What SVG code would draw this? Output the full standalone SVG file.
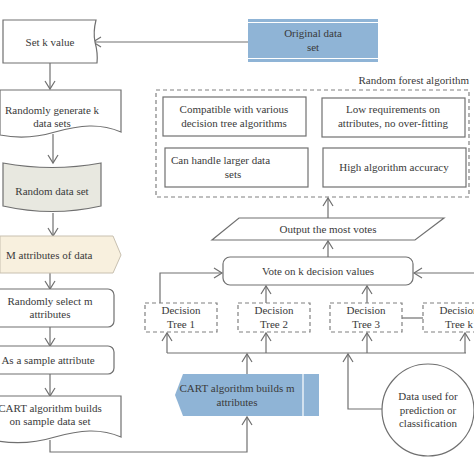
<svg xmlns="http://www.w3.org/2000/svg" width="474" height="474" viewBox="0 0 474 474">
<style>
text{font-family:"Liberation Serif","DejaVu Serif",serif;font-size:11px;fill:#3a3a3a;text-anchor:middle}
.s{fill:#fff;stroke:#707070;stroke-width:1.2}
.d{fill:#fff;stroke:#808080;stroke-width:1.2;stroke-dasharray:4 3}
.c{fill:none;stroke:#707070;stroke-width:1.2}
.a{marker-end:url(#ar)}
</style>
<defs>
<marker id="ar" markerUnits="userSpaceOnUse" markerWidth="14" markerHeight="14" viewBox="-10 -7 12 14" refX="0" refY="0" orient="auto">
<path d="M-8,-5 L0,0 L-8,5" fill="none" stroke="#707070" stroke-width="1.2"/>
</marker>
</defs>
<rect width="474" height="474" fill="#fff"/>

<g id="connectors">
<path class="c a" d="M248,42 H93"/>
<path class="c a" d="M50,63 V89"/>
<path class="c a" d="M53,134 V163"/>
<path class="c a" d="M53,213 V236"/>
<path class="c a" d="M50,273 V289"/>
<path class="c a" d="M50,327 V346"/>
<path class="c a" d="M50,374 V396"/>
<path class="c a" d="M50,440 V452 H247 V417"/>
<path class="c a" d="M247,374 V354"/>
<path class="c" d="M167,353 H466"/>
<path class="c a" d="M167,353 V333"/>
<path class="c a" d="M266,353 V333"/>
<path class="c a" d="M367,353 V333"/>
<path class="c a" d="M465,353 V333"/>
<path class="c a" d="M382,409 H348 V354"/>
<path class="c a" d="M160,303 V273 H222"/>
<path class="c a" d="M266,303 V286"/>
<path class="c a" d="M367,303 V286"/>
<path class="c a" d="M474,273 H414"/>
<path class="c" d="M402,318 H423"/>
<path class="c a" d="M328,257 V241"/>
<path class="c a" d="M328,218 V198"/>
</g>

<g id="set-k">
<path class="s" d="M3,20 H96 Q93,32 95,42 Q98,53 97,63 H3 Z"/>
<text x="50" y="46">Set k value</text>
</g>

<g id="original">
<rect x="248" y="19" width="130" height="43" fill="#8fb4d6"/>
<path d="M248,22.5 H378 M248,58.5 H378" stroke="#fff" stroke-width="1.2"/>
<text x="313" y="37">Original data</text>
<text x="313" y="51">set</text>
</g>

<g id="gen-k">
<path class="s" d="M0,90 H121 V132 C100,123 80,125 55,132 C35,138 15,138 0,135 Z"/>
<text x="52" y="114">Randomly generate k</text>
<text x="52" y="127">data sets</text>
</g>

<g id="random-data">
<path d="M3,163 Q52,172 101,163 V206 Q52,217 3,206 Z" fill="#e8e8e0" stroke="#707070" stroke-width="1.2"/>
<text x="52" y="195">Random data set</text>
</g>

<g id="m-attr">
<path d="M0,236 H113 L121,255 L113,273 H0 Z" fill="#f8f0de" stroke="#c8c0b0" stroke-width="1"/>
<text x="6" y="259" style="text-anchor:start">M attributes of data</text>
</g>

<g id="select-m">
<rect class="s" x="-8" y="289" width="122" height="38" rx="6"/>
<text x="50" y="305">Randomly select m</text>
<text x="50" y="318">attributes</text>
</g>

<g id="sample">
<rect class="s" x="-8" y="346" width="122" height="28" rx="6"/>
<text x="48" y="364">As a sample attribute</text>
</g>

<g id="cart-doc">
<path class="s" d="M-2,396 H121 V437 C100,428 80,430 55,437 C35,443 15,444 -2,441 Z"/>
<text x="50" y="412">CART algorithm builds</text>
<text x="50" y="425">on sample data set</text>
</g>

<g id="cart-m">
<path d="M183,374 H319 V416 H183 L175,395 Z" fill="#8fb4d6"/>
<path d="M303,374 V416" stroke="#fff" stroke-width="1.2"/>
<text x="237" y="392">CART algorithm builds m</text>
<text x="237" y="406">attributes</text>
</g>

<g id="data-used">
<circle class="s" cx="428" cy="410" r="46"/>
<text x="428" y="400">Data used for</text>
<text x="428" y="414">prediction or</text>
<text x="428" y="427">classification</text>
</g>

<g id="tree1">
<rect class="d" x="145" y="303" width="72" height="29"/>
<text x="181" y="314">Decision</text>
<text x="181" y="328">Tree 1</text>
</g>
<g id="tree2">
<rect class="d" x="238" y="303" width="72" height="29"/>
<text x="274" y="314">Decision</text>
<text x="274" y="328">Tree 2</text>
</g>
<g id="tree3">
<rect class="d" x="330" y="303" width="72" height="29"/>
<text x="366" y="314">Decision</text>
<text x="366" y="328">Tree 3</text>
</g>
<g id="treek">
<rect class="d" x="423" y="303" width="72" height="29"/>
<text x="459" y="314">Decision</text>
<text x="459" y="328">Tree k</text>
</g>

<g id="vote">
<rect class="s" x="223" y="257" width="190" height="28" rx="7"/>
<text x="318" y="275">Vote on k decision values</text>
</g>

<g id="output">
<path class="s" d="M239,218 H444 L415,240 H212 Z"/>
<text x="328" y="233">Output the most votes</text>
</g>

<g id="rf">
<rect class="d" x="156" y="90" width="313" height="107" fill="none"/>
<text x="469" y="84" style="text-anchor:end">Random forest algorithm</text>
<rect class="s" x="163" y="97" width="143" height="39"/>
<text x="234" y="113">Compatible with various</text>
<text x="234" y="127">decision tree algorithms</text>
<rect class="s" x="322" y="98" width="143" height="39"/>
<text x="393" y="113">Low requirements on</text>
<text x="393" y="127">attributes, no over-fitting</text>
<rect class="s" x="165" y="148" width="143" height="39"/>
<text x="171" y="164" style="text-anchor:start">Can handle larger data</text>
<text x="233" y="178">sets</text>
<rect class="s" x="323" y="148" width="143" height="39"/>
<text x="394" y="171">High algorithm accuracy</text>
</g>
</svg>
